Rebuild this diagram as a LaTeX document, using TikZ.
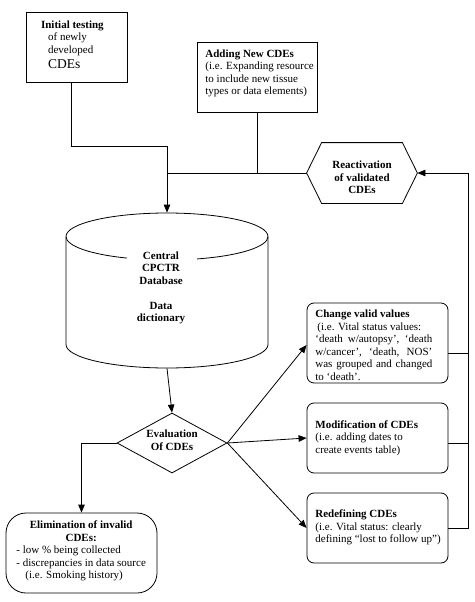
\documentclass[tikz,border=0pt]{standalone}
\usepackage{fontspec}
\setmainfont{Liberation Serif}
\usetikzlibrary{arrows.meta,shapes.geometric}
\begin{document}
\begin{tikzpicture}[x=1pt,y=-1pt,line width=0.8pt,
  arr/.style={-{Triangle[length=8pt,width=6.5pt]}},
  txt/.style={inner sep=0pt,font=\fontsize{11}{12.5}\selectfont},
  sqbox/.style={draw,rectangle,inner sep=0pt},
  rbox/.style={draw,rectangle,rounded corners=7pt,inner sep=0pt,minimum width=141pt}]
\useasboundingbox (0,0) rectangle (474,602);
\fill[white] (0,0) rectangle (474,602);

% boxes
\node[sqbox,minimum width=101pt,minimum height=70pt] (init) at (76.5,47) {};
\node[sqbox,minimum width=120pt,minimum height=70pt] (add) at (257,77) {};
\node[inner sep=0pt,minimum width=110pt,minimum height=60pt] (react) at (362,173) {};
\draw (react.west) -- ([xshift=15pt]react.north west) -- ([xshift=-15pt]react.north east)
  -- (react.east) -- ([xshift=-15pt]react.south east) -- ([xshift=15pt]react.south west) -- cycle;
\node[inner sep=0pt,minimum width=202pt,minimum height=155pt] (db) at (167,290.5) {};
\draw (66,236.5) arc[start angle=180,end angle=0,x radius=101pt,y radius=23.5pt];
\draw (268,236.5) arc[start angle=360,end angle=287.3,x radius=101pt,y radius=23.5pt];
\draw (66,236.5) arc[start angle=180,end angle=246.7,x radius=101pt,y radius=23.5pt];
\draw (66,236.5) -- (66,344.5) arc[start angle=180,end angle=360,x radius=101pt,y radius=23.5pt] -- (268,236.5);
\node[draw,diamond,aspect=1.833,inner sep=0pt,minimum width=110pt,minimum height=60pt] (eval) at (172,443) {};
\node[draw,rectangle,rounded corners=20pt,minimum width=151pt,minimum height=80pt,inner sep=0pt] (elim) at (81.5,553) {};
\node[rbox,minimum height=80pt] (change) at (377.5,343) {};
\node[rbox,minimum height=70pt] (modif) at (377.5,438) {};
\node[rbox,minimum height=70pt] (redef) at (377.5,528) {};

% texts
\node[txt,anchor=north west] (initT) at (40.7,19) {\begin{tabular}{@{}l@{}}\textbf{Initial testing}\\\hspace*{7pt}of newly\\\hspace*{7pt}developed\\[2.5pt]\hspace*{7pt}{\fontsize{13.5}{15}\selectfont CDEs}\end{tabular}};
\node[txt,anchor=north west] (addT) at (205,48) {\begin{tabular}{@{}l@{}}\textbf{Adding New CDEs}\\(i.e. Expanding resource\\to include new tissue\\types or data elements)\end{tabular}};
\node[txt,anchor=north] (reactT) at (362,159.6) {\begin{tabular}{@{}c@{}}\textbf{Reactivation}\\\textbf{of validated}\\\textbf{CDEs}\end{tabular}};
\node[txt,anchor=north] (dbT) at (161,250.3) {\begin{tabular}{@{}c@{}}\textbf{Central}\\\textbf{CPCTR}\\\textbf{Database}\\[12.5pt]\textbf{Data}\\\textbf{dictionary}\end{tabular}};
\node[txt,anchor=north] (evalT) at (172,428.5) {\begin{tabular}{@{}c@{}}\textbf{Evaluation}\\\textbf{Of CDEs}\end{tabular}};
\node[txt,anchor=north west] (elimT) at (16,519.5) {\begin{tabular}{@{}l@{}}\multicolumn{1}{@{}c@{}}{\textbf{Elimination of invalid}}\\\multicolumn{1}{@{}c@{}}{\textbf{CDEs:}}\\- low \% being collected\\- discrepancies in data source\\\hspace*{9pt}(i.e. Smoking history)\end{tabular}};
\node[txt,anchor=north west] (changeT) at (315,308.5) {\begin{tabular}{@{}l@{}}\textbf{Change valid values}\\\hspace*{2pt}(i.e. Vital status values:\\\makebox[117pt][s]{‘death w/autopsy’, ‘death}\\\makebox[117pt][s]{w/cancer’, ‘death, NOS’}\\\makebox[117pt][s]{was grouped and changed}\\to ‘death’.\end{tabular}};
\node[txt,anchor=north west] (modifT) at (315,419) {\begin{tabular}{@{}l@{}}\textbf{Modification of CDEs}\\(i.e. adding dates to\\create events table)\end{tabular}};
\node[txt,anchor=north west] (redefT) at (315,508.5) {\begin{tabular}{@{}l@{}}\textbf{Redefining CDEs}\\(i.e. Vital status: clearly\\defining “lost to follow up”)\end{tabular}};

% connectors
\coordinate (j1) at (167,146);
\coordinate (rt) at (468,173);
\draw ([xshift=-5pt]init.south) |- (j1);
\draw[arr] (j1) -- (db.north);
\draw (add.south) -- (add.south |- react.west);
\draw (react.west) -- (react.west -| j1);
\draw[arr] (db.south) -- (eval.north);
\draw[arr] (eval.west) -| (elim.north);
\draw[arr] (eval.east) -- ([yshift=-2pt]change.west);
\draw[arr] (eval.east) -- (modif.west);
\draw[arr] (eval.east) -- (redef.west);
\draw[arr] (redef.east) -| (rt) -- (react.east);
\coordinate (ce) at ([yshift=-10pt]change.east);
\coordinate (me) at ([yshift=-5pt]modif.east);
\draw (ce) -- (ce -| rt);
\draw (me) -- (me -| rt);
\end{tikzpicture}
\end{document}
